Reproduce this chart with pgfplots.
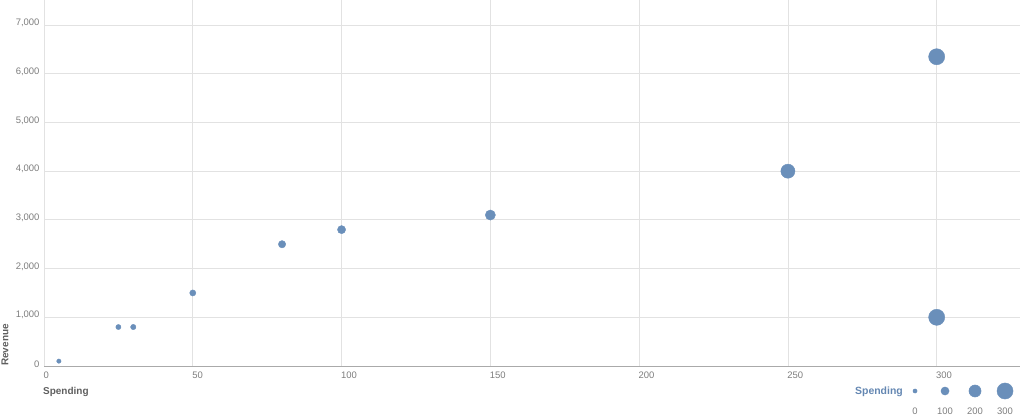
\documentclass[border=0pt]{standalone}
\usepackage{fontspec}
\setmainfont{Liberation Sans}
\usepackage{pgfplots}
\usepackage{pgfplotstable}
\pgfplotsset{compat=1.18}

\definecolor{bubble}{RGB}{106,143,186}
\definecolor{gridc}{RGB}{226,226,226}
\definecolor{axisc}{RGB}{170,170,170}
\definecolor{ticktext}{RGB}{125,125,125}
\definecolor{labeltext}{RGB}{95,95,95}
\definecolor{legendtext}{RGB}{100,135,178}

% spending vs revenue
\pgfplotstableread{
x y
5 100
25 800
30 800
50 1500
80 2500
100 2800
150 3100
250 4000
300 6350
300 1000
}\spend

% size legend
\pgfplotstableread{
x y
0 0
100 0
200 0
300 0
}\sizes

\pgfplotsset{bubbles/.style={scatter, only marks, mark=*,
  scatter/use mapped color={draw=bubble, fill=bubble},
  visualization depends on={2.1+0.02*\thisrow{x} \as \rad},
  scatter/@pre marker code/.append style={/tikz/mark size=\rad}}}

\begin{document}
\begin{tikzpicture}[x=1bp,y=1bp,font=\fontsize{9.5}{11}\selectfont]
\useasboundingbox (0,0) rectangle (1024,418);
\begin{axis}[
  at={(44bp,52bp)}, anchor=south west,
  scale only axis, width=976bp, height=366bp,
  xmin=0, xmax=328, ymin=0, ymax=7515,
  xtick={0,50,...,300}, ytick={0,1000,...,7000},
  grid=major, major grid style={gridc, line width=0.8bp},
  axis x line*=bottom, axis y line*=left,
  x axis line style={axisc, line width=1bp, -},
  y axis line style={draw=none},
  tick style={draw=none},
  /pgf/number format/1000 sep={,},
  /pgf/number format/assume math mode=true,
  ticklabel style={text=ticktext},
  xticklabel style={anchor=north west, xshift=-4bp, yshift=-2bp},
  yticklabel style={anchor=east, xshift=-1bp, yshift=2bp},
  xlabel={\fontsize{10}{12}\selectfont\bfseries Spending},
  xlabel style={at={(axis description cs:0,0)}, anchor=west, inner sep=0pt, yshift=-26bp, xshift=-1bp, text=labeltext},
  clip=false,
]
\addplot[bubbles] table[x=x, y=y] {\spend};
\end{axis}

\begin{axis}[
  at={(915bp,27bp)}, anchor=west,
  scale only axis, width=90bp, height=10bp,
  xmin=0, xmax=300, ymin=-1, ymax=1,
  enlargelimits=false, clip=false,
  axis line style={draw=none}, tick style={draw=none},
  xtick={0,100,200,300}, ytick=\empty,
  /pgf/number format/assume math mode=true,
  xticklabel style={text=ticktext, yshift=-8bp},
]
\addplot[bubbles] table[x=x, y=y] {\sizes};
\end{axis}
\node[anchor=east, inner sep=0pt, text=legendtext] at (903,26) {\fontsize{10.5}{12}\selectfont\bfseries Spending};
\node[rotate=90, anchor=west, inner sep=0pt, text=labeltext] at (5,52) {\fontsize{10}{12}\selectfont\bfseries Revenue};
\end{tikzpicture}
\end{document}
